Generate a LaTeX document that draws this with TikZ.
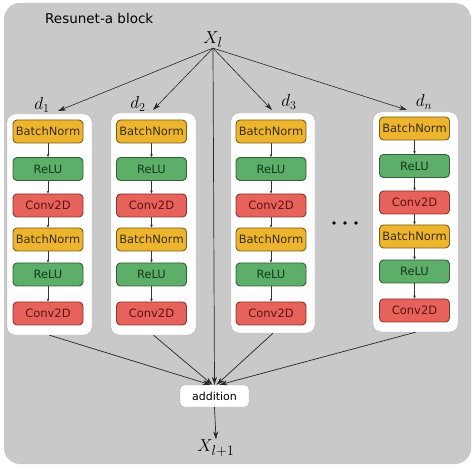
\documentclass[tikz,border=0pt]{standalone}
\usepackage{fontspec}
\setsansfont{DejaVu Sans}
\usetikzlibrary{arrows.meta}
\definecolor{bggray}{HTML}{C9C9C9}
\definecolor{bnfill}{HTML}{EDB52E}
\definecolor{bndraw}{HTML}{7A5C14}
\definecolor{rlfill}{HTML}{5DAE69}
\definecolor{rldraw}{HTML}{335E3A}
\definecolor{cvfill}{HTML}{E6625A}
\definecolor{cvdraw}{HTML}{8A3430}
\definecolor{bntext}{HTML}{3A2E10}
\definecolor{rltext}{HTML}{143A1C}
\definecolor{cvtext}{HTML}{5A1414}
\tikzset{
  layer/.style={rounded corners=4pt, minimum width=70pt, minimum height=23pt, inner sep=0pt,
     font=\sffamily\fontsize{11.5}{12}\selectfont, line width=0.9pt},
  bn/.style={layer, fill=bnfill, draw=bndraw, text=bntext},
  rl/.style={layer, fill=rlfill, draw=rldraw, text=rltext},
  cv/.style={layer, fill=cvfill, draw=cvdraw, text=cvtext},
  colbox/.style={fill=white, draw=gray!60, rounded corners=8pt, line width=0.4pt, inner sep=0pt},
  inarrow/.style={draw=black!80, line width=0.4pt, -{Stealth[length=3pt,width=2.5pt]}},
  bigarrow/.style={draw=black!85, line width=0.7pt, -{Stealth[length=8pt,width=5pt]}},
  mathlbl/.style={inner sep=0pt, font=\fontsize{17}{18}\selectfont},
  dotmark/.style={fill=black, inner sep=0pt, minimum size=3.6pt, circle},
}
\begin{document}
\begin{tikzpicture}[x=1pt,y=-1pt]
\useasboundingbox (0,0) rectangle (474,470);
\fill[bggray, rounded corners=16pt] (4,3) rectangle (471,464);
\node[anchor=west, inner sep=0pt, font=\sffamily\fontsize{13.5}{14}\selectfont] (title) at (45,18) {Resunet-a block};
\node[mathlbl, font=\fontsize{19}{20}\selectfont] (X) at (213,40) {$X_l$};

% column boxes
\node[colbox, minimum width=85pt, minimum height=221pt] (box1) at (49.5,224.5) {};
\node[colbox, minimum width=85pt, minimum height=222pt] (box2) at (153.5,224) {};
\node[colbox, minimum width=84pt, minimum height=220pt] (box3) at (273,223) {};
\node[colbox, minimum width=85pt, minimum height=220pt] (boxn) at (415.5,222) {};

% layers
\foreach \c/\x/\o in {1/48/0, 2/151.5/0, 3/271/0, n/414.5/-3}{
  \node[bn] (\c a) at (\x,131.5+\o) {BatchNorm};
  \node[rl] (\c b) at (\x,169+\o) {ReLU};
  \node[cv] (\c c) at (\x,205.5+\o) {Conv2D};
  \node[bn] (\c d) at (\x,239.5+\o) {BatchNorm};
  \node[rl] (\c e) at (\x,274.5+\o) {ReLU};
  \node[cv] (\c f) at (\x,313.5+\o) {Conv2D};
  \draw[inarrow] (\c a) -- (\c b);
  \draw[inarrow] (\c b) -- (\c c);
  \draw[inarrow] (\c c) -- (\c d);
  \draw[inarrow] (\c d) -- (\c e);
  \draw[inarrow] (\c e) -- (\c f);
}

% d labels
\node[mathlbl] (d1) at (42,105) {$d_1$};
\node[mathlbl] (d2) at (138,104) {$d_2$};
\node[mathlbl] (d3) at (289,102) {$d_3$};
\node[mathlbl] (dn) at (424,102) {$d_n$};

% dots
\node[dotmark] (dot1) at (334,223) {};
\node[dotmark] (dot2) at (345,223) {};
\node[dotmark] (dot3) at (356,223) {};

% arrows from X
\coordinate (t1) at (58,111);
\coordinate (t2) at (153,110);
\coordinate (t3) at (272,110);
\coordinate (tn) at (407,110);
\draw[bigarrow, line width=0.6pt] (X.south) -- (t1);
\draw[bigarrow, line width=0.6pt] (X.south) -- (t2);
\draw[bigarrow, line width=0.6pt] (X.south) -- (t3);
\draw[bigarrow, line width=0.6pt] (X.south) -- (tn);

% addition
\node[fill=white, draw=gray!70, rounded corners=4pt, minimum width=69pt, minimum height=22pt, inner sep=0pt,
      font=\sffamily\fontsize{11}{12}\selectfont] (add) at (214.5,396) {addition};
\draw[bigarrow] (X.south) -- (add.north);
\draw[bigarrow] (box1.south) -- ([xshift=-4pt]add.north);
\draw[bigarrow] (box2.south) -- ([xshift=-2pt]add.north);
\draw[bigarrow] (box3.south) -- ([xshift=2pt]add.north);
\draw[bigarrow] (boxn.south) -- ([xshift=5pt]add.north);

\node[mathlbl, font=\fontsize{19}{20}\selectfont] (Y) at (216,448) {$X_{l+1}$};
\draw[bigarrow] (add.south) -- (Y.north);
\end{tikzpicture}
\end{document}
